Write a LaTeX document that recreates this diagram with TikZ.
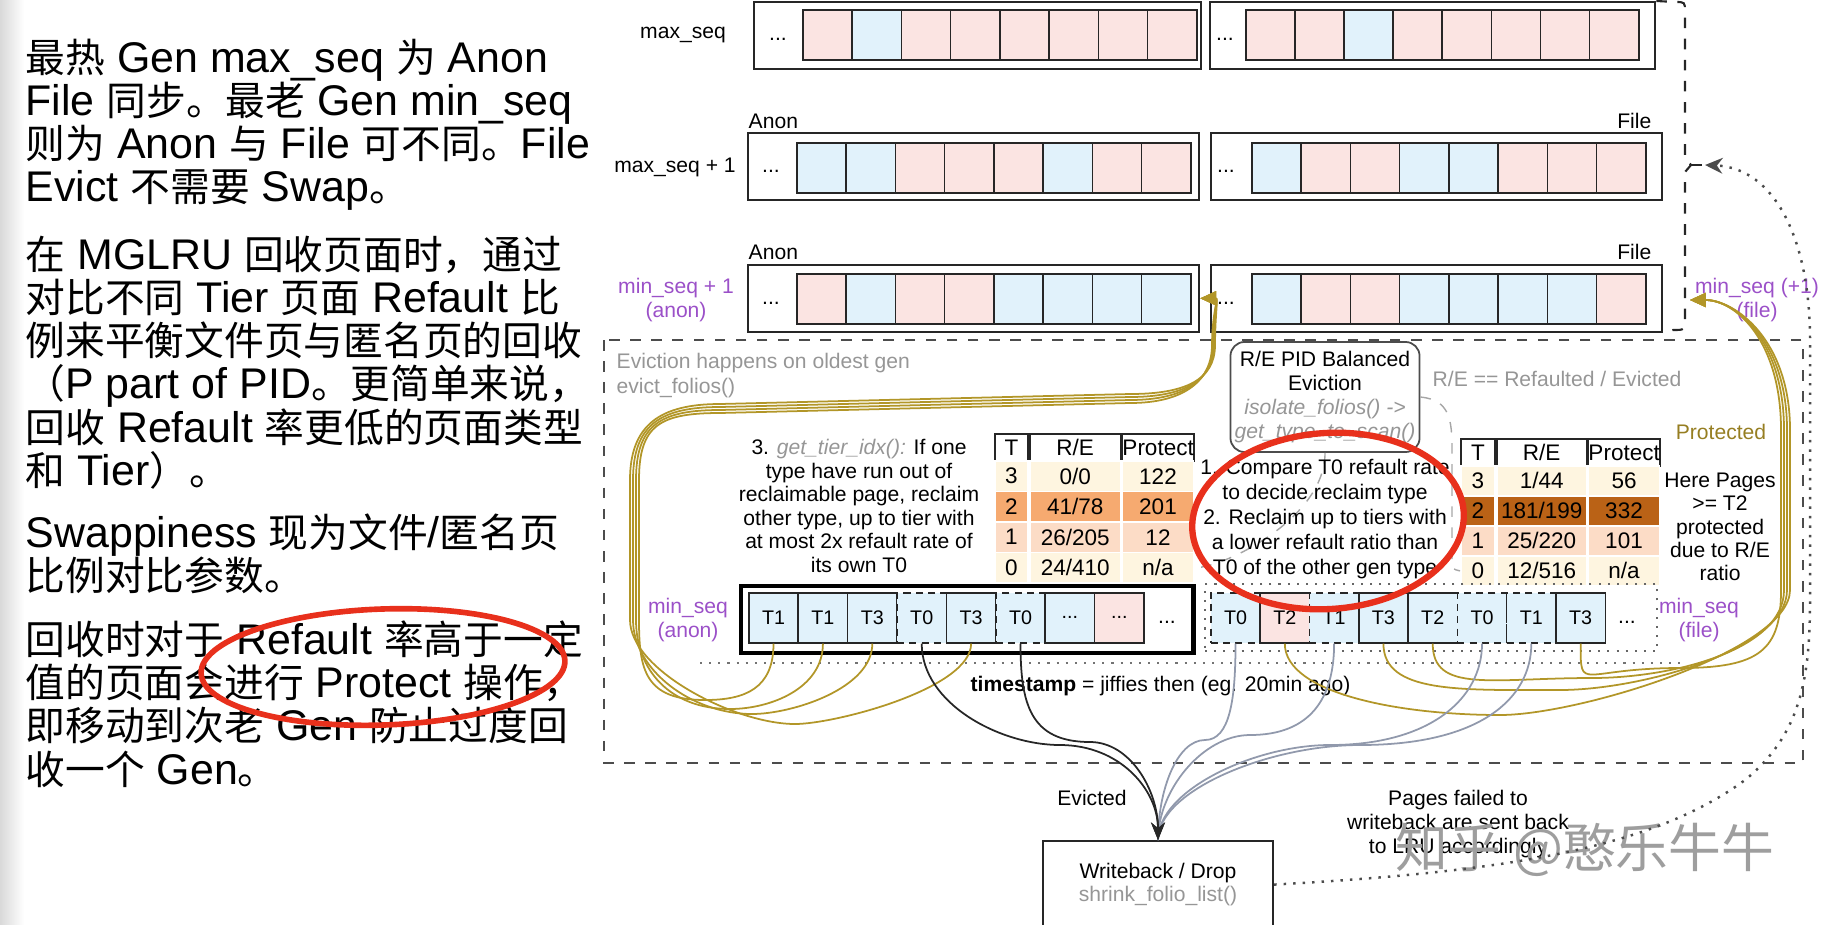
\documentclass[tikz,border=0pt]{standalone}
\usepackage{fontspec}
\setmainfont{Liberation Sans}
\newfontfamily\zhfam{Noto Sans CJK SC}
\usetikzlibrary{arrows.meta,calc,positioning,shapes.geometric}

\newcommand\zh[1]{{\zhfam\fontsize{11.3}{12.3}\selectfont#1}}
\newcommand\notefont{\fontsize{12.2}{12.3}\selectfont}
\newcommand\dfont{\fontsize{6}{6.8}\selectfont}
\newcommand\cellfont{\fontsize{5.6}{6}\selectfont}
\newcommand\tabfont{\fontsize{6.4}{7}\selectfont}
\newcommand\dd{.{}.{}.}

\definecolor{cellp}{RGB}{251,228,226}
\definecolor{cellb}{RGB}{225,242,251}
\definecolor{goldline}{RGB}{178,150,40}
\definecolor{goldtext}{RGB}{150,126,34}
\definecolor{seqpurple}{RGB}{155,80,200}
\definecolor{evgray}{RGB}{145,153,172}
\definecolor{txtgray}{RGB}{150,150,150}
\definecolor{rowcream}{RGB}{254,245,224}
\definecolor{roworange}{RGB}{246,170,112}
\definecolor{rowpeach}{RGB}{252,220,198}
\definecolor{rowbrown}{RGB}{186,98,22}
\definecolor{markred}{RGB}{232,48,28}

\tikzset{
  note/.style={anchor=north west, inner sep=0pt, align=left, font=\notefont},
  pg/.style={draw=black!85, line width=0.45pt, minimum width=0.4925cm, minimum height=0.5cm, inner sep=0pt, anchor=north west},
  genbox/.style={draw=black!85, line width=0.6pt, minimum height=0.665cm, inner sep=0pt, anchor=north west},
  tier/.style={pg, minimum width=0.494cm, font=\cellfont},
  evc/.style={dash pattern=on 2pt off 1.5pt},
  lbl/.style={font=\dfont, inner sep=0pt},
  seq/.style={lbl, text=seqpurple, align=center, font=\fontsize{6}{6.6}\selectfont},
  tcell/.style={draw=white, line width=0.5pt, minimum height=0.305cm, inner sep=0pt, anchor=north west, font=\tabfont},
  thead/.style={tcell, draw=black!85, fill=white, minimum height=0.27cm},
  protarrow/.style={draw=goldline, line width=0.5pt, -{Triangle[length=4.5pt,width=4pt]}},
  evline/.style={draw=evgray, line width=0.5pt},
  evblack/.style={draw=black!85, line width=0.5pt},
  guide/.style={dashed, black!35, line width=0.4pt},
}

\begin{document}
\begin{tikzpicture}[x=0.01cm, y=-0.01cm]
\useasboundingbox (0,0) rectangle (1828,924);
\shade[left color=black!15, right color=white] (0,0) rectangle (24,924);

% notes on the left
\node[note] (p1) at (25,38) {\zh{最热} Gen max\_seq \zh{为} Anon\\
  File \zh{同步。最老} Gen min\_seq\\
  \zh{则为} Anon \zh{与} File \zh{可不同。}File\\
  Evict \zh{不需要} Swap\zh{。}};
\node[note] (p2) at (25,235) {\zh{在} MGLRU \zh{回收页面时，通过}\\
  \zh{对比不同} Tier \zh{页面} Refault \zh{比}\\
  \zh{例来平衡文件页与匿名页的回收}\\
  \zh{（}P part of PID\zh{。更简单来说，}\\
  \zh{回收} Refault \zh{率更低的页面类型}\\
  \zh{和} Tier\zh{）。}};
\node[note] (p3) at (25,513) {Swappiness \zh{现为文件}/\zh{匿名页}\\
  \zh{比例对比参数。}};
\node[note] (p4) at (25,620) {\zh{回收时对于} Refault \zh{率高于一定}\\
  \zh{值的页面会进行} Protect \zh{操作，}\\
  \zh{即移动到次老} Gen \zh{防止过度回}\\
  \zh{收一个} Gen\zh{。}};

% generations
\node[genbox, minimum width=4.47cm] (g1a) at (753,1) {};
\node[genbox, minimum width=4.45cm] (g1b) at (1209,1) {};
\node[genbox, minimum width=4.51cm] (g2a) at (747,132) {};
\node[genbox, minimum width=4.51cm] (g2b) at (1210,132) {};
\node[genbox, minimum width=4.51cm] (g3a) at (747,264) {};
\node[genbox, minimum width=4.51cm] (g3b) at (1210,264) {};

\foreach \c [count=\i from 0] in {p,b,p,p,p,p,p,p}
  \node[pg, fill=cell\c] (c1a\i) at ({802+49.25*\i},9) {};
\foreach \c [count=\i from 0] in {p,p,b,p,p,p,p,p}
  \node[pg, fill=cell\c] (c1b\i) at ({1245+49.1*\i},9) {};
\foreach \c [count=\i from 0] in {b,b,p,p,p,b,p,p}
  \node[pg, fill=cell\c] (c2a\i) at ({796+49.25*\i},142) {};
\foreach \c [count=\i from 0] in {b,p,p,b,b,p,p,p}
  \node[pg, fill=cell\c] (c2b\i) at ({1251+49.25*\i},142) {};
\foreach \c [count=\i from 0] in {p,b,p,p,b,b,b,b}
  \node[pg, fill=cell\c] (c3a\i) at ({796+49.25*\i},273) {};
\foreach \c [count=\i from 0] in {b,p,p,b,b,b,b,p}
  \node[pg, fill=cell\c] (c3b\i) at ({1251+49.25*\i},273) {};

\node[lbl] (d1a) at (778,39) {\dd};
\node[lbl] (d1b) at (1225,39) {\dd};
\node[lbl] (d2a) at (771,171) {\dd};
\node[lbl] (d2b) at (1226,171) {\dd};
\node[lbl] (d3a) at (771,303) {\dd};
\node[lbl] (d3b) at (1226,303) {\dd};

\node[lbl] (l1) at (683,35) {max\_seq};
\node[lbl] (l2) at (675,167) {max\_seq + 1};
\node[seq] (l3) at (676,300) {min\_seq + 1\\(anon)};
\node[lbl, anchor=south west] (anon2) at (748,129) {Anon};
\node[lbl, anchor=south east] (file2) at (1652,129) {File};
\node[lbl, anchor=south west] (anon3) at (748,260) {Anon};
\node[lbl, anchor=south east] (file3) at (1652,260) {File};
\node[seq] (minf1) at (1757,300) {min\_seq (+1)\\(file)};

% bracket round the younger gens
\coordinate (gseqin) at (1705,165);
\coordinate (fseqin) at (1690,300);
\draw[dashed, black!85, line width=0.6pt] (g1b.north east) -- (1675,2) .. controls (1685,2) .. (1685,12)
  -- (1685,158) -- (1691,165) -- (1685,172) -- (1685,318) .. controls (1685,330) .. (1673,330) -- (g3b.south east);
\draw[dashed, black!85, line width=0.6pt] (1691,165) -- (gseqin);

% eviction area
\draw[dashed, black!70, line width=0.5pt] (604,340) rectangle (1803,763);
\node[lbl, text=txtgray, anchor=west, align=left, font=\fontsize{6}{7.1}\selectfont] (evhdr) at (616,376)
  {Eviction happens on oldest gen\\evict\_folios()};
\node[lbl, text=txtgray, anchor=west] (retxt) at (1432,379) {R/E == Refaulted / Evicted};

\node[draw=black!70, rounded corners=4pt, minimum width=1.89cm, minimum height=1.1cm, align=center,
  font=\dfont, line width=0.5pt, fill=white, inner sep=1pt] (re) at (1325,397)
  {R/E PID Balanced\\Eviction\\{\color{txtgray}\itshape isolate\_folios() ->}\\{\color{txtgray}\itshape get\_type\_to\_scan()}};

% anon tier table
\node[thead, minimum width=0.33cm] (atT) at (994,433) {T};
\node[thead, minimum width=0.91cm, right=0pt of atT] (atR) {R/E};
\node[thead, minimum width=0.71cm, right=0pt of atR] (atP) {Protect};
\foreach \t/\re/\pr/\f [count=\r from 0] in {3/{0/0}/122/rowcream, 2/{41/78}/201/roworange,
    1/{26/205}/12/rowpeach, 0/{24/410}/{n/a}/rowcream} {
  \node[tcell, fill=\f, minimum width=0.33cm] (atT\t) at (994,{460+30.5*\r}) {\t};
  \node[tcell, fill=\f, minimum width=0.91cm, right=0pt of atT\t] (atR\t) {\re};
  \node[tcell, fill=\f, minimum width=0.71cm, right=0pt of atR\t] (atP\t) {\pr};
}

% file tier table
\node[thead, minimum width=0.34cm] (ftT) at (1460,438) {T};
\node[thead, minimum width=0.90cm, right=0pt of ftT] (ftR) {R/E};
\node[thead, minimum width=0.71cm, right=0pt of ftR] (ftP) {Protect};
\foreach \t/\re/\pr/\f [count=\r from 0] in {3/{1/44}/56/rowcream, 2/{181/199}/332/rowbrown,
    1/{25/220}/101/rowpeach, 0/{12/516}/{n/a}/rowcream} {
  \node[tcell, fill=\f, minimum width=0.34cm, minimum height=0.3cm] (ftT\t) at (1460,{465+30*\r}) {\t};
  \node[tcell, fill=\f, minimum width=0.90cm, minimum height=0.3cm, right=0pt of ftT\t] (ftR\t) {\re};
  \node[tcell, fill=\f, minimum width=0.71cm, minimum height=0.3cm, right=0pt of ftR\t] (ftP\t) {\pr};
}

\draw[guide] (re.east) .. controls (1450,400) and (1452,420) .. (1452,450) -- (1452,560) .. controls (1452,569) .. (ftT0.west);
\draw[guide] (re.south) .. controls (1325,520) and (1220,569) .. (atP0.east);

\node[lbl, align=center, font=\fontsize{6}{7.1}\selectfont] (cmp) at (1325,519)
  {1. Compare T0 refault rate\\to decide reclaim type\\2. Reclaim up to tiers with\\a lower refault ratio than\\T0 of the other gen type};
\node[lbl, align=center, font=\fontsize{6}{6.7}\selectfont] (tiertxt) at (859,506)
  {3. {\color{txtgray}\itshape get\_tier\_idx():} If one\\type have run out of\\reclaimable page, reclaim\\other type, up to tier with\\at most 2x refault rate of\\its own T0};
\node[lbl, text=goldtext] (prottxt) at (1721,432) {Protected};
\node[lbl, align=center, font=\fontsize{6}{6.6}\selectfont] (heretxt) at (1720,527)
  {Here Pages\\>= T2\\protected\\due to R/E\\ratio};

% oldest gen, anon and file
\node[draw=black, line width=1.2pt, minimum width=4.52cm, minimum height=0.67cm, anchor=north west, inner sep=0pt] (tra) at (739,584) {};
\foreach \t/\c/\s [count=\i from 0] in {T1/b/solid, T1/b/solid, T3/b/solid, T0/b/evc, T3/b/solid, T0/b/evc, \dd/b/solid, \dd/p/solid}
  \node[tier, fill=cell\c, \s] (aT\i) at ({748+49.4*\i},592) {\t};
\node[lbl] (aTd) at (1167,622) {\dd};
\node[draw=black!60, dotted, line width=0.6pt, minimum width=4.52cm, minimum height=0.67cm, anchor=north west, inner sep=0pt] (trf) at (1204,583) {};
\foreach \t/\c/\s [count=\i from 0] in {T0/b/evc, T2/p/solid, T1/b/evc, T3/b/solid, T2/b/solid, T0/b/evc, T1/b/evc, T3/b/solid}
  \node[tier, fill=cell\c, \s] (fT\i) at ({1210+49.3*\i},592) {\t};
\node[lbl] (fTd) at (1627,622) {\dd};
\node[seq] (mina) at (688,620) {min\_seq\\(anon)};
\node[seq] (minf) at (1699,620) {min\_seq\\(file)};

\coordinate (tsL) at (700,663);
\coordinate (tsR) at (1680,663);
\draw[dotted, black!55, line width=0.6pt] (tsL) -- (tsR);
\node[lbl, anchor=west] (ts) at (970,686) {\textbf{timestamp} = jiffies then (eg. 20min ago)};

% writeback
\node[draw=black!85, line width=0.6pt, minimum width=2.3cm, minimum height=0.87cm, anchor=north, align=center,
  font=\fontsize{6}{6.6}\selectfont, fill=white] (wb) at (1158,840) {Writeback / Drop\\{\color{txtgray}shrink\_folio\_list()}};
\node[lbl] (evtxt) at (1092,798) {Evicted};
\node[lbl, align=center] (failtxt) at (1458,824) {Pages failed to\\writeback are sent back\\to LRU accordingly};
\node[font=\zhfam\fontsize{15}{15}\selectfont, text=black!38, inner sep=0pt] (wm) at (1585,850) {知乎 @憨乐牛牛};

% protected pages move up a gen
\foreach \i/\bx/\by/\o in {0/705/700/9, 1/730/709/6, 2/752/714/3, 4/795/724/0}
  \draw[protarrow] (aT\i.south) .. controls +(0,45) and +(40,0) .. (\bx,\by)
    .. controls +(-60,0) and +(0,50) .. ({630+\o},620) -- ({630+\o},480)
    .. controls +(0,-55) and +(-60,0) .. (720,{404+\o}) -- (1130,{394+\o})
    .. controls +(55,0) and +(0,35) .. ({1215-\o/3},345) .. controls +(0,-30) and +(18,0) .. (g3a.east);
\foreach \i/\bx/\by/\rx in {1/1500/715/1790, 3/1560/690/1787, 4/1592/678/1784, 7/1680/668/1781}
  \draw[protarrow] (fT\i.south) .. controls +(0,50) and +(-100,0) .. (\bx,\by)
    .. controls +(80,0) and +(0,60) .. (\rx,590) -- (\rx,430)
    .. controls +(0,-90) and +(45,0) .. (fseqin);

% evicted pages
\foreach \i/\mx/\my/\d/\cx in {0/1205/740/25/1177, 2/1250/735/60/1203, 5/1330/745/100/1255, 6/1360/745/120/1270}
  \draw[evline] (fT\i.south) .. controls +(0,55) and +(\d,0) .. (\mx,\my) .. controls (\cx,\my) and (1158,790) .. (wb.north);
\foreach \i/\mx/\my/\cx in {3/1060/745/1120, 5/1090/742/1130}
  \draw[evblack, -{Stealth[length=5pt,width=4pt]}] (aT\i.south) .. controls +(0,60) and +(-60,0) .. (\mx,\my)
    .. controls (\cx,\my) and (1158,790) .. (wb.north);

% failed writeback goes back
\draw[dotted, black!70, line width=0.7pt, -{Stealth[length=5pt,width=4.5pt]}] (wb.east)
  .. controls (1500,872) and (1650,850) .. (1745,780) .. controls (1800,735) and (1810,680) .. (1810,600)
  -- (1810,340) .. controls (1810,240) and (1775,168) .. (gseqin);

% red marks
\draw[markred, line width=1.8pt, rotate around={4:(1328,521)}] (1328,521) ellipse (136 and 88);
\draw[markred, line width=1.6pt, rotate around={2:(383,667)}] (383,667) ellipse (182 and 58);
\end{tikzpicture}
\end{document}
